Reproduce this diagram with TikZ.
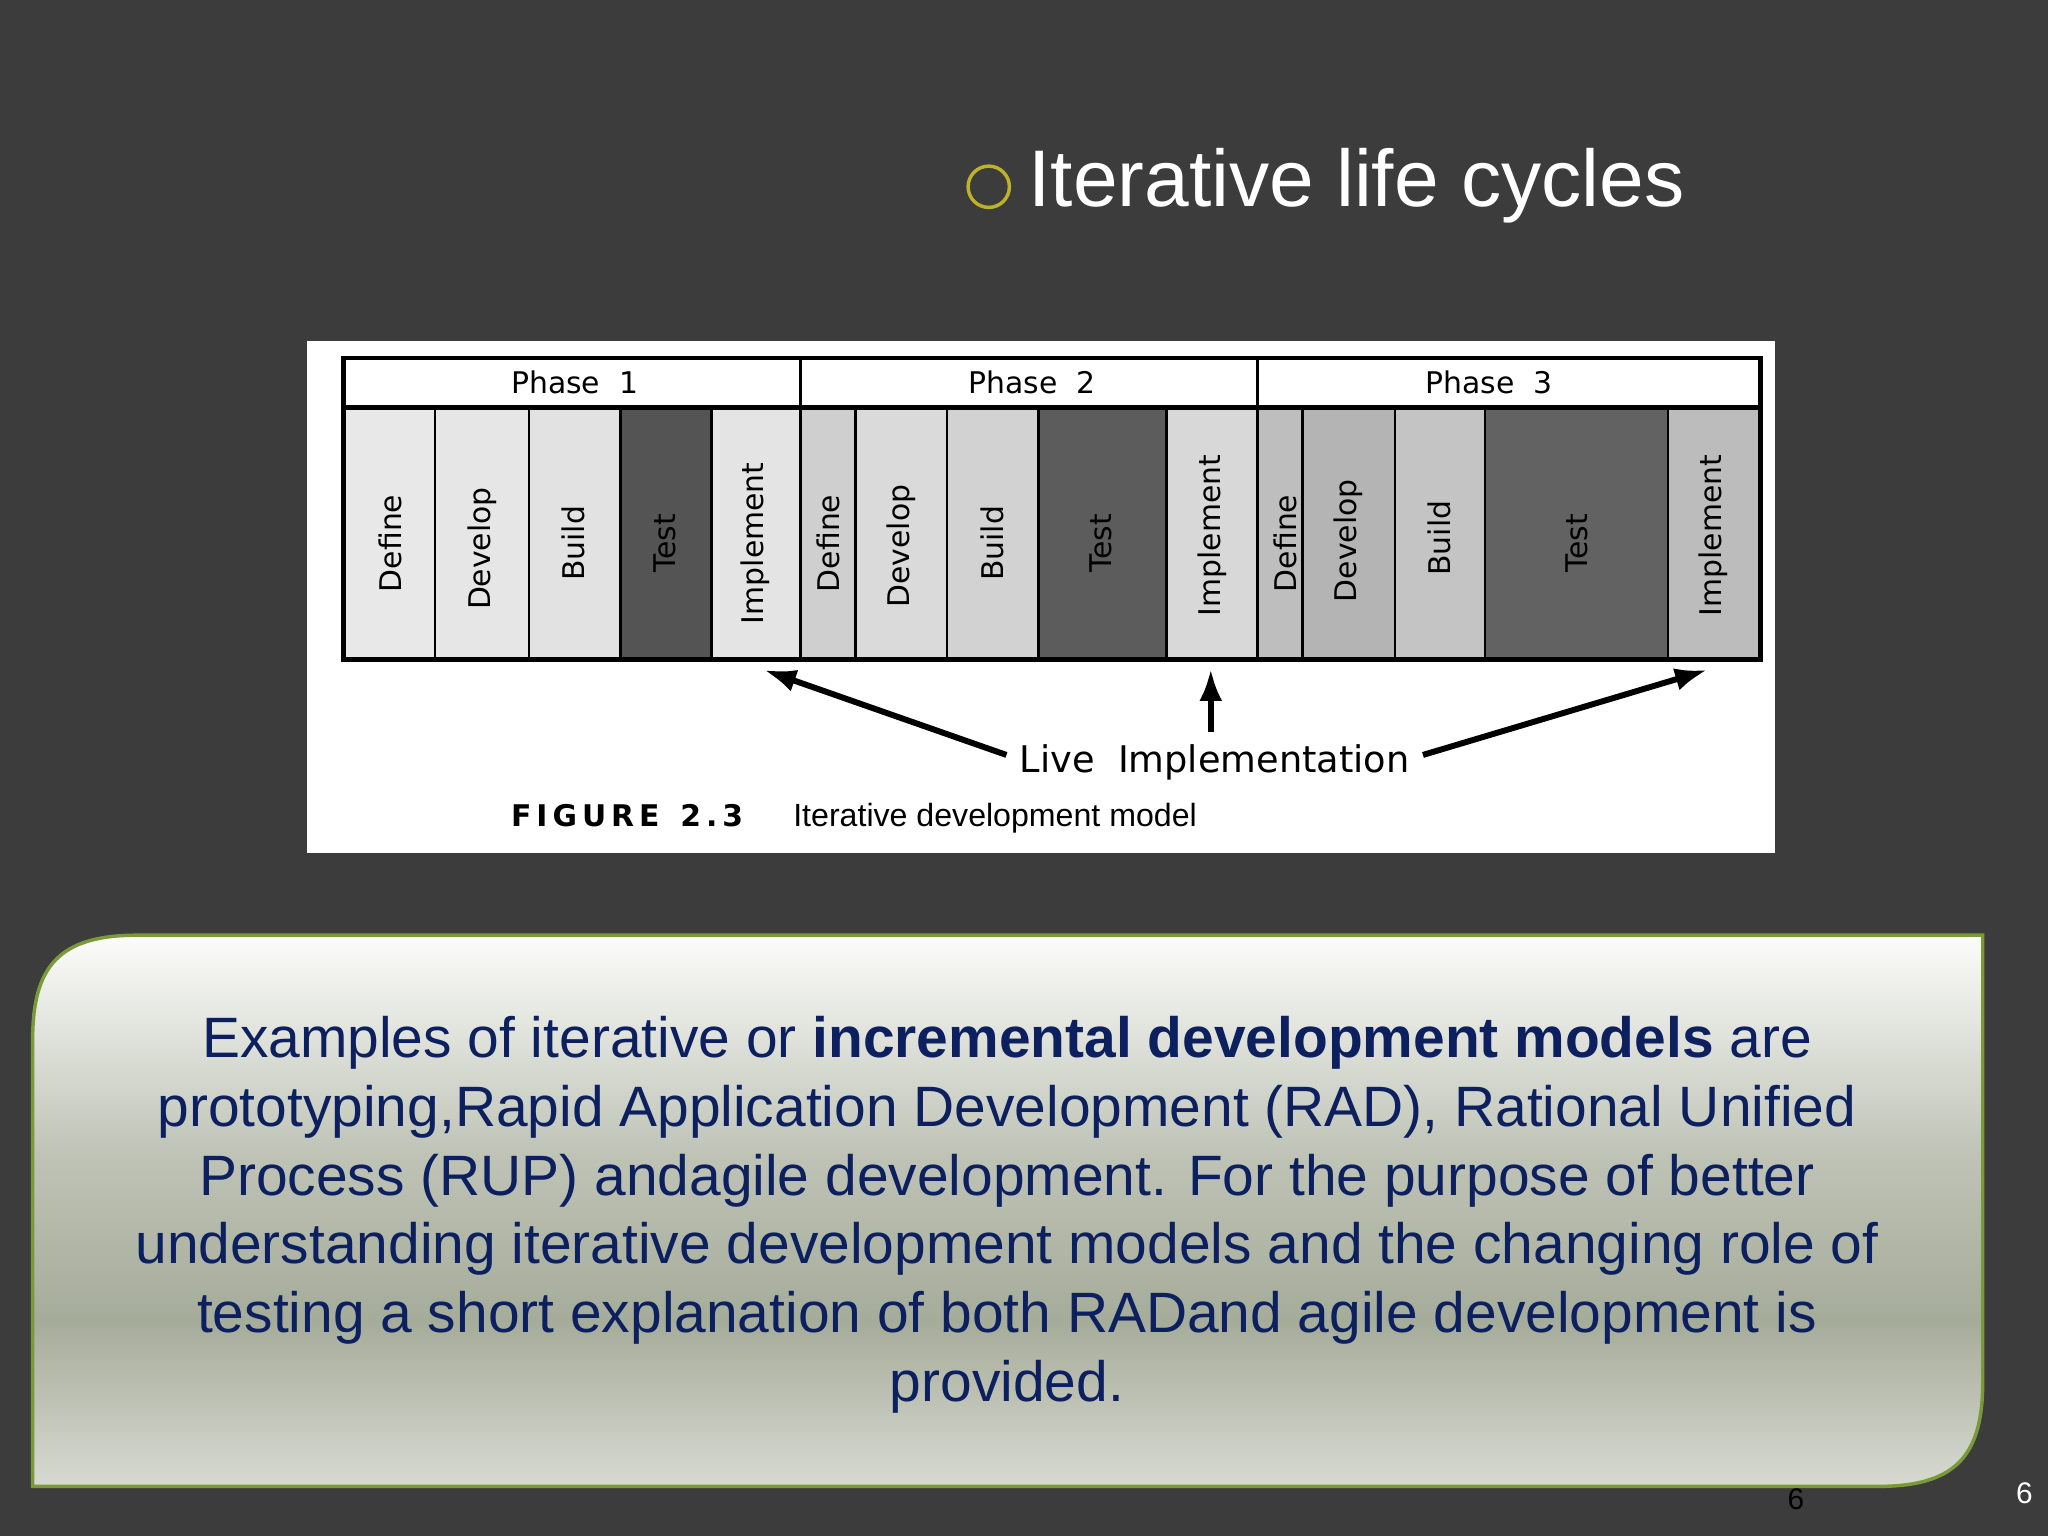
\documentclass[tikz,border=0pt]{standalone}
\usepackage{fontspec}
\setmainfont{Liberation Sans}
\newfontfamily\verd{DejaVu Sans}
\usetikzlibrary{arrows.meta}
\definecolor{bg}{HTML}{3C3C3C}
\definecolor{navy}{HTML}{0C1F5E}
\definecolor{bord}{HTML}{7A9A3A}
\definecolor{bul}{HTML}{BDB22A}
\pgfdeclareverticalshading{boxshade}{100bp}{color(0bp)=(rgb,255:red,216;green,218;blue,210);color(25bp)=(rgb,255:red,216;green,218;blue,210);color(40bp)=(rgb,255:red,166;green,172;blue,154);color(55bp)=(rgb,255:red,190;green,195;blue,182);color(75bp)=(rgb,255:red,252;green,252;blue,250);color(100bp)=(rgb,255:red,252;green,252;blue,250)}
\tikzset{
  col/.style={draw=black,line width=1.2pt},
  lab/.style={rotate=90,font=\verd\fontsize{13}{14}\selectfont,text=black},
  arr/.style={line width=2.6pt,-{Latex[length=14pt,width=10pt]}},
}
\begin{document}
\begin{tikzpicture}[x=0.02cm,y=-0.02cm]
\fill[bg] (0,0) rectangle (1568,1176);
\useasboundingbox (0,0) rectangle (1568,1176);
% title
\node[circle,draw=bul,line width=1.5pt,minimum size=18,inner sep=0] (bullet) at (757,143) {};
\node[anchor=base west,text=white,font=\fontsize{35}{42}\selectfont,inner sep=0] (title) at (787,158) {Iterative life cycles};
% figure
\fill[white] (235,261) rectangle (1359,653);
\foreach \a/\b/\c in {263/333/E8E8E8,333/405/E6E6E6,405/475/E2E2E2,475/545/545454,545/613/E4E4E4,
613/655/CFCFCF,655/725/DADADA,725/795/D2D2D2,795/893/5C5C5C,893/963/D8D8D8,
963/997/BEBEBE,997/1068/B4B4B4,1068/1137/C4C4C4,1137/1277/626262,1277/1348/BCBCBC}{
  \definecolor{cc}{HTML}{\c}
  \fill[cc] (\a,312) rectangle (\b,505);
  \draw[col] (\a,312) -- (\a,505);
}
\draw[line width=2pt] (263,274) rectangle (1348,505);
\draw[line width=2pt] (263,312) -- (1348,312);
\draw[col] (613,274) -- (613,312) (963,274) -- (963,312);
\foreach \n/\x in {1/440,2/790,3/1140}{
  \node[font=\verd\fontsize{13}{14}\selectfont] (ph\n) at (\x,293) {Phase \ \n};
}
\node[lab] (d1) at (299,416) {Define};
\node[lab] (v1) at (369,420) {Develop};
\node[lab] (b1) at (439,416) {Build};
\node[lab] (t1) at (509,416) {Test};
\node[lab] (i1) at (578,416) {Implement};
\node[lab] (d2) at (634,416) {Define};
\node[lab] (v2) at (690,418) {Develop};
\node[lab] (b2) at (760,416) {Build};
\node[lab] (t2) at (843,416) {Test};
\node[lab] (i2) at (928,410) {Implement};
\node[lab] (d3) at (984,416) {Define};
\node[lab] (v3) at (1032,414) {Develop};
\node[lab] (b3) at (1102,412) {Build};
\node[lab] (t3) at (1207,416) {Test};
\node[lab] (i3) at (1312,410) {Implement};
\node[font=\verd\fontsize{16}{18}\selectfont] (live) at (930,584) {Live \ Implementation};
\coordinate (a1) at (585,513);
\coordinate (a2) at (927,512);
\coordinate (a3) at (1307,513);
\draw[arr] (live.west) ++(-4,-6) -- (a1);
\draw[arr] (live.north) ++(-3,-4) -- (a2);
\draw[arr] (live.east) ++(4,-6) -- (a3);
\node[anchor=base west,font=\verd\bfseries\fontsize{13}{14}\selectfont,inner sep=0] (fig) at (391,633) {F\,I\,G\,U\,R\,E\ \ 2\,.\,3};
\node[anchor=base west,font=\fontsize{14}{16}\selectfont,inner sep=0] (cap) at (607,633) {Iterative development model};
% box
\shade[shading=boxshade,draw=bord,line width=1.5pt] (25,1138) -- (25,796) .. controls (25,740) and (45,716) .. (105,716) -- (1518,716) -- (1518,1058) .. controls (1518,1114) and (1498,1138) .. (1438,1138) -- cycle;
\node[text=navy,align=center,font=\fontsize{24.8}{30}\selectfont,inner sep=0] (body) at (771,930) {Examples of iterative or \textbf{incremental development models} are\\prototyping,Rapid Application Development (RAD), Rational Unified\\Process (RUP) andagile development. For the purpose of better\\understanding iterative development models and the changing role of\\testing a short explanation of both RADand agile development is\\provided.};
\node[text=black,font=\fontsize{13}{14}\selectfont] (pg1) at (1375,1148) {6};
\node[text=white!85,font=\fontsize{13}{14}\selectfont] (pg2) at (1550,1143) {6};
\end{tikzpicture}
\end{document}
